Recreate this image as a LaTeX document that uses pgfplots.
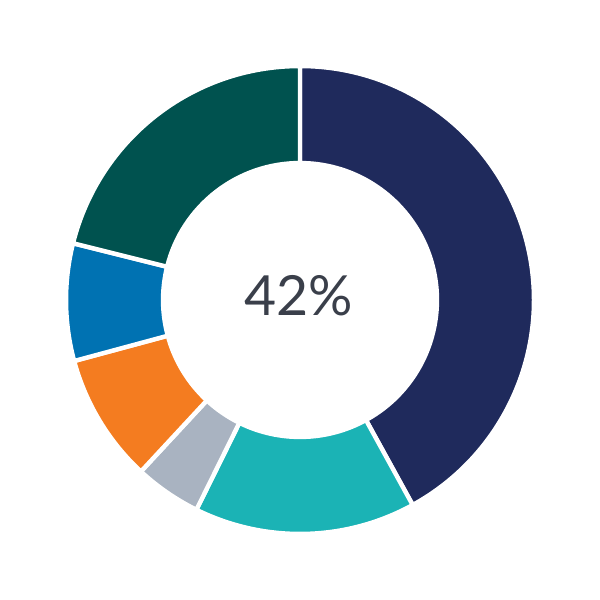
\documentclass[border=0pt]{standalone}
\usepackage{fontspec}
\setmainfont{Lato}
\usepackage{pgfplots}
\usepackage{pgfplotstable}
\pgfplotsset{compat=1.18}

\definecolor{cnavy}{HTML}{1F2A5C}
\definecolor{cteal}{HTML}{1BB3B5}
\definecolor{cgray}{HTML}{A9B3C1}
\definecolor{corange}{HTML}{F47C20}
\definecolor{cblue}{HTML}{0072B2}
\definecolor{cgreen}{HTML}{00524F}
\definecolor{ctext}{HTML}{3A3F4A}

% shares in percent, clockwise from 12 o'clock
\pgfplotstableread{
share col
42.0 cnavy
15.3 cteal
4.6 cgray
8.9 corange
8.1 cblue
21.1 cgreen
}\donut

\begin{document}
\begin{tikzpicture}
\begin{axis}[x=0.02cm, y=0.02cm,
  xmin=-300, xmax=300, ymin=-300, ymax=300,
  hide axis, clip=false]
\path (axis cs:-300,-300) rectangle (axis cs:300,300);
\pgfplotstablegetrowsof{\donut}
\pgfmathtruncatemacro\nrows{\pgfplotsretval-1}
\def\cum{0}
\pgfplotsforeachungrouped \i in {0,...,\nrows}{%
  \pgfplotstablegetelem{\i}{share}\of\donut \let\v\pgfplotsretval
  \pgfplotstablegetelem{\i}{col}\of\donut \let\c\pgfplotsretval
  \pgfmathsetmacro\aa{90-3.6*\cum}
  \pgfmathsetmacro\ab{90-3.6*(\cum+\v)}
  \edef\wedge{\noexpand\fill[\c, draw=white, line width=2.5pt]
    ([shift={(\aa:4.68cm)}]axis cs:0,0) arc[start angle=\aa, end angle=\ab, radius=4.68cm]
    -- ([shift={(\ab:2.74cm)}]axis cs:0,0) arc[start angle=\ab, end angle=\aa, radius=2.74cm]
    -- cycle;}
  \wedge
  \pgfmathsetmacro\cum{\cum+\v}
}
\node[anchor=base, text=ctext, font=\fontsize{31.5}{36}\selectfont]
  at (axis cs:-1.5,-15) {42\%};
\end{axis}
\end{tikzpicture}
\end{document}
